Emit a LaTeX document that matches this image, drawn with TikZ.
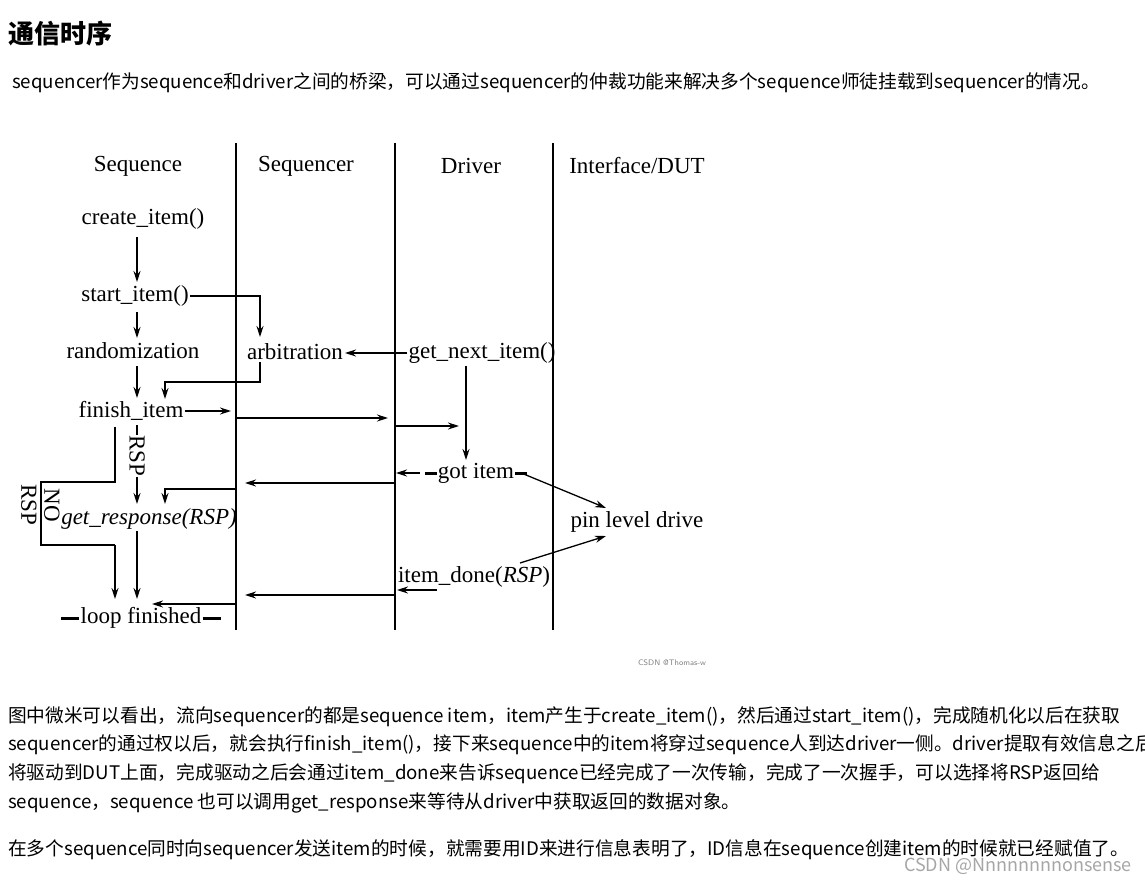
\documentclass[tikz,border=0pt]{standalone}
\usepackage{fontspec}
\setmainfont{Liberation Serif}
\newfontfamily\cjk{Noto Sans CJK SC}
\usetikzlibrary{arrows.meta}
\begin{document}
\begin{tikzpicture}[x=1pt,y=-1pt,
  dg/.style={font=\fontsize{23}{26}\selectfont, inner sep=1pt},
  body/.style={font=\cjk\fontsize{18.7}{22}\selectfont, anchor=west, inner sep=0pt},
  arr/.style={-{Stealth[length=11pt,width=7pt]}, line width=1.3pt},
  ln/.style={line width=1.3pt},
  lane/.style={line width=1.2pt},
  bar/.style={line width=3pt}]
\useasboundingbox (0,0) rectangle (1145,883);
\clip (0,0) rectangle (1145,883);
\node[anchor=west, font=\cjk\bfseries\fontsize{26}{28}\selectfont, inner sep=0pt] (title) at (8,34) {通信时序};
\node[body] (intro) at (12,83) {sequencer作为sequence和driver之间的桥梁，可以通过sequencer的仲裁功能来解决多个sequence师徒挂载到sequencer的情况。};
% lanes
\coordinate (l1t) at (236,143); \coordinate (l1b) at (236,630);
\coordinate (l2t) at (395,143); \coordinate (l2b) at (395,630);
\coordinate (l3t) at (553,143); \coordinate (l3b) at (553,630);
\draw[lane] (l1t)--(l1b); \draw[lane] (l2t)--(l2b); \draw[lane, line width=2pt] (l3t)--(l3b);
\node[dg] (h1) at (138,166) {Sequence};
\node[dg] (h2) at (306,166) {Sequencer};
\node[dg] (h3) at (471,166) {Driver};
\node[dg] (h4) at (637,166) {Interface/DUT};
\node[dg] (ci) at (143,219) {create\_item()};
\node[dg] (si) at (135,296) {start\_item()};
\node[dg] (rz) at (133,351) {randomization};
\node[dg] (ar) at (295,352) {arbitration};
\node[dg] (gn) at (482,353) {get\_next\_item()};
\node[dg] (fi) at (131,411) {finish\_item};
\node[dg, font=\fontsize{23}{26}\selectfont\itshape] (gr) at (149,519) {get\_response(RSP)};
\node[dg] (lf) at (141,618) {loop finished};
\node[dg] (gi) at (476,473) {got item};
\node[dg] (pl) at (637,522) {pin level drive};
\node[dg] (id) at (474,577) {item\_done(\textit{RSP})};
% sequence column
\draw[arr] (137,237) -- (137,282);
\draw[arr] (137,312) -- (137,338);
\draw[arr] (si.east) -- (260,296) -- (260,337);
\draw[arr] (137,366) -- (137,398);
\draw[arr] (260,362) -- (260,382) -- (165,382) -- (165,399);
\draw[arr] (fi.east) -- (231,411);
\draw[arr] (236,418) -- (388,418);
\draw[ln] (137,425) -- (137,478);
\node[dg, fill=white, rotate=-90] (rsp) at (137,456) {RSP};
\draw[arr] (137,478) -- (137,504);
\draw[ln] (115,427) -- (115,482) -- (41,482) -- (41,545) -- (115,545);
\node[dg, fill=white, rotate=-90, inner sep=0pt] (no) at (52,505) {NO};
\node[dg, fill=white, rotate=-90, inner sep=0pt] (rsp2) at (29,505) {RSP};
\draw[arr] (115,545) -- (115,599);
\draw[arr] (236,489) -- (165,489) -- (165,504);
\draw[arr] (137,531) -- (137,599);
\draw[arr] (236,604) -- (152,604);
\draw[bar] (lf.west) ++(-18,0) -- (lf.west);
\draw[bar] (lf.east) -- ++(18,0);
% sequencer column
\draw[arr] (395,483) -- (245,483);
\draw[arr] (395,595) -- (245,595);
\draw[arr] (gn.west) -- (345,353);
% driver
\draw[arr] (395,426) -- (459,426);
\draw[arr] (466,366) -- (466,460);
\draw[bar] (gi.west) ++(-12,0) -- (gi.west);
\draw[arr] (420,473) -- (396,473);
\draw[bar] (gi.east) -- ++(12,0);
\draw[arr] (gi.east) ++(6,0) -- (606,508);
\draw[arr] (520,563) -- (606,536);
\draw[arr] (437,590) -- (397,590);
\node[font=\sffamily\fontsize{8}{9}\selectfont, text=gray] (wm1) at (672,663) {CSDN @Thomas-w};
% body text
\node[body] (p1) at (8,717) {图中微米可以看出，流向sequencer的都是sequence item，item产生于create\_item()，然后通过start\_item()，完成随机化以后在获取};
\node[body] (p2) at (8,745) {sequencer的通过权以后，就会执行finish\_item()，接下来sequence中的item将穿过sequence人到达driver一侧。driver提取有效信息之后};
\node[body] (p3) at (8,774) {将驱动到DUT上面，完成驱动之后会通过item\_done来告诉sequence已经完成了一次传输，完成了一次握手，可以选择将RSP返回给};
\node[body] (p4) at (8,803) {sequence，sequence 也可以调用get\_response来等待从driver中获取返回的数据对象。};
\node[body] (p5) at (8,850) {在多个sequence同时向sequencer发送item的时候，就需要用ID来进行信息表明了，ID信息在sequence创建item的时候就已经赋值了。};
\node[font=\cjk\fontsize{18}{20}\selectfont, text=gray!70, anchor=east, inner sep=0pt] (wm2) at (1132,866) {CSDN @Nnnnnnnnonsense};
\end{tikzpicture}
\end{document}
